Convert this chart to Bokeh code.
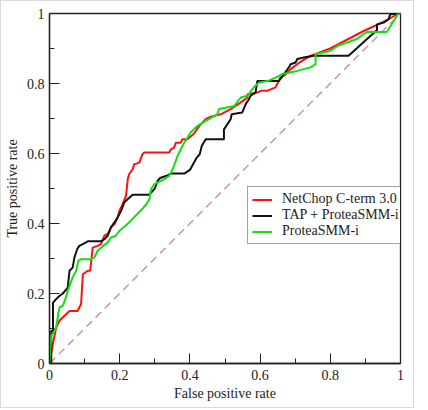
from bokeh.plotting import figure
from bokeh.models import Range1d, FixedTicker
from bokeh.embed import file_html
from bokeh.resources import INLINE

# ---- data ----
netchop_fpr = [0, 0.0095, 0.019, 0.028, 0.057, 0.08, 0.09, 0.095, 0.109, 0.116, 0.123, 0.137, 0.147,
               0.156, 0.166, 0.175, 0.185, 0.194, 0.199, 0.206, 0.218, 0.223, 0.227, 0.237, 0.241,
               0.256, 0.265, 0.27, 0.341, 0.346, 0.355, 0.36, 0.374, 0.379, 0.393, 0.412, 0.42,
               0.431, 0.445, 0.459, 0.488, 0.516, 0.545, 0.564, 0.564, 0.592, 0.602, 0.62, 0.644,
               0.658, 0.673, 0.687, 0.715, 0.743, 0.8, 0.895, 0.96, 0.994, 1.0]
netchop_tpr = [0, 0.055, 0.103, 0.122, 0.15, 0.15, 0.17, 0.255, 0.265, 0.265, 0.331, 0.336, 0.341,
               0.365, 0.37, 0.389, 0.398, 0.417, 0.436, 0.45, 0.479, 0.527, 0.541, 0.555, 0.569,
               0.574, 0.598, 0.603, 0.603, 0.612, 0.617, 0.631, 0.631, 0.641, 0.641, 0.657, 0.669,
               0.684, 0.698, 0.705, 0.712, 0.727, 0.746, 0.76, 0.769, 0.774, 0.779, 0.779, 0.789,
               0.817, 0.826, 0.841, 0.862, 0.879, 0.9, 0.95, 0.98, 1.0, 1.0]

tap_fpr = [0, 0.005, 0.005, 0.01, 0.01, 0.019, 0.028, 0.038, 0.052, 0.057, 0.066, 0.071, 0.079, 0.085,
           0.099, 0.109, 0.147, 0.156, 0.166, 0.175, 0.185, 0.194, 0.204, 0.213, 0.223, 0.237, 0.284,
           0.3, 0.308, 0.315, 0.336, 0.346, 0.385, 0.4, 0.418, 0.428, 0.434, 0.445, 0.497, 0.497,
           0.507, 0.516, 0.519, 0.549, 0.559, 0.568, 0.573, 0.587, 0.592, 0.653, 0.668, 0.682, 0.687,
           0.701, 0.706, 0.724, 0.753, 0.852, 0.933, 0.933, 0.952, 0.966, 0.971, 0.994, 1.0]
tap_tpr = [0, 0.0, 0.093, 0.093, 0.174, 0.184, 0.193, 0.2, 0.217, 0.265, 0.274, 0.303, 0.327, 0.336,
           0.343, 0.349, 0.349, 0.355, 0.365, 0.389, 0.403, 0.417, 0.436, 0.46, 0.47, 0.482, 0.482,
           0.5, 0.522, 0.53, 0.537, 0.543, 0.543, 0.553, 0.586, 0.598, 0.622, 0.641, 0.641, 0.669,
           0.684, 0.698, 0.712, 0.717, 0.741, 0.755, 0.765, 0.774, 0.807, 0.807, 0.827, 0.846, 0.855,
           0.86, 0.87, 0.874, 0.879, 0.879, 0.953, 0.969, 0.974, 0.984, 0.998, 1.0, 1.0]

protea_fpr = [0, 0.005, 0.014, 0.019, 0.028, 0.038, 0.043, 0.047, 0.052, 0.057, 0.066, 0.076, 0.082,
              0.09, 0.118, 0.128, 0.137, 0.147, 0.166, 0.175, 0.189, 0.2, 0.215, 0.228, 0.243, 0.26,
              0.276, 0.285, 0.289, 0.298, 0.327, 0.341, 0.351, 0.365, 0.374, 0.384, 0.393, 0.402,
              0.422, 0.445, 0.469, 0.478, 0.483, 0.526, 0.545, 0.564, 0.582, 0.597, 0.625, 0.644,
              0.663, 0.682, 0.706, 0.724, 0.743, 0.758, 0.758, 0.8, 0.82, 0.848, 0.876, 0.895, 0.905,
              0.961, 0.994, 1.0]
protea_tpr = [0, 0.079, 0.093, 0.103, 0.16, 0.165, 0.179, 0.189, 0.208, 0.222, 0.246, 0.265, 0.293,
              0.298, 0.298, 0.303, 0.322, 0.331, 0.346, 0.36, 0.365, 0.38, 0.392, 0.404, 0.42, 0.437,
              0.455, 0.47, 0.498, 0.512, 0.527, 0.536, 0.555, 0.593, 0.612, 0.631, 0.645, 0.66,
              0.679, 0.693, 0.707, 0.712, 0.727, 0.736, 0.76, 0.765, 0.789, 0.803, 0.808, 0.817,
              0.827, 0.831, 0.836, 0.841, 0.846, 0.855, 0.884, 0.893, 0.907, 0.917, 0.927, 0.941, 0.947,
              0.947, 1.0, 1.0]

diag = [0, 1]

series_labels = ["NetChop C-term 3.0", "TAP + ProteaSMM-i", "ProteaSMM-i"]
major_ticks = [0, 0.2, 0.4, 0.6, 0.8, 1]
minor_ticks = [0.1, 0.3, 0.5, 0.7, 0.9]
tick_labels = ["0", "0.2", "0.4", "0.6", "0.8", "1"]

FONT = "Liberation Serif"

p = figure(frame_width=351, frame_height=350, output_backend="svg", toolbar_location=None,
           x_range=Range1d(0, 1), y_range=Range1d(0, 1),
           min_border_left=40, min_border_top=12, min_border_right=13, min_border_bottom=44)
p.styles = {"border": "1px solid #dcdcdc", "box-sizing": "border-box"}
p.grid.visible = False
p.outline_line_color = "#222222"
p.outline_line_width = 1.3

p.line(diag, diag, line_color="#c49a9a", line_width=1.5, line_dash="8 5")
p.line(netchop_fpr, netchop_tpr, line_color="#ff1010", line_width=2, legend_label=series_labels[0])
p.line(tap_fpr, tap_tpr, line_color="#111111", line_width=2, legend_label=series_labels[1])
p.line(protea_fpr, protea_tpr, line_color="#10e010", line_width=2, line_join="round",
       legend_label=series_labels[2])

overrides = {t: l for t, l in zip(major_ticks, tick_labels)}
for ax in (p.xaxis[0], p.yaxis[0]):
    ax.ticker = FixedTicker(ticks=major_ticks, minor_ticks=minor_ticks)
    ax.major_label_overrides = overrides
    ax.major_tick_in = 10
    ax.major_tick_out = 0
    ax.minor_tick_in = 5
    ax.minor_tick_out = 0
    ax.axis_line_color = "#222222"
    ax.axis_line_width = 1.3
    ax.major_tick_line_color = "#222222"
    ax.minor_tick_line_color = "#222222"
    ax.major_label_text_font = FONT
    ax.major_label_text_font_size = "14px"
    ax.major_label_text_color = "#222222"
    ax.axis_label_text_font = FONT
    ax.axis_label_text_font_size = "14px"
    ax.axis_label_text_font_style = "normal"
    ax.axis_label_text_color = "#222222"

p.xaxis.axis_label = "False positive rate"
p.yaxis.axis_label = "True positive rate"
p.xaxis.major_label_standoff = 6
p.xaxis.axis_label_standoff = 3
p.yaxis.major_label_standoff = 5
p.yaxis.axis_label_standoff = 4

lg = p.legend[0]
lg.location = (198, 119)
lg.label_text_font = FONT
lg.label_text_font_size = "14px"
lg.label_text_line_height = 1.0
lg.label_text_color = "#222222"
lg.label_height = 13
lg.glyph_height = 13
lg.glyph_width = 20
lg.label_standoff = 10
lg.spacing = 0
lg.padding = 4
lg.margin = 0
lg.border_line_color = "#444444"
lg.border_line_width = 1
lg.background_fill_alpha = 1

open("out.html", "w").write(file_html(p, INLINE))
